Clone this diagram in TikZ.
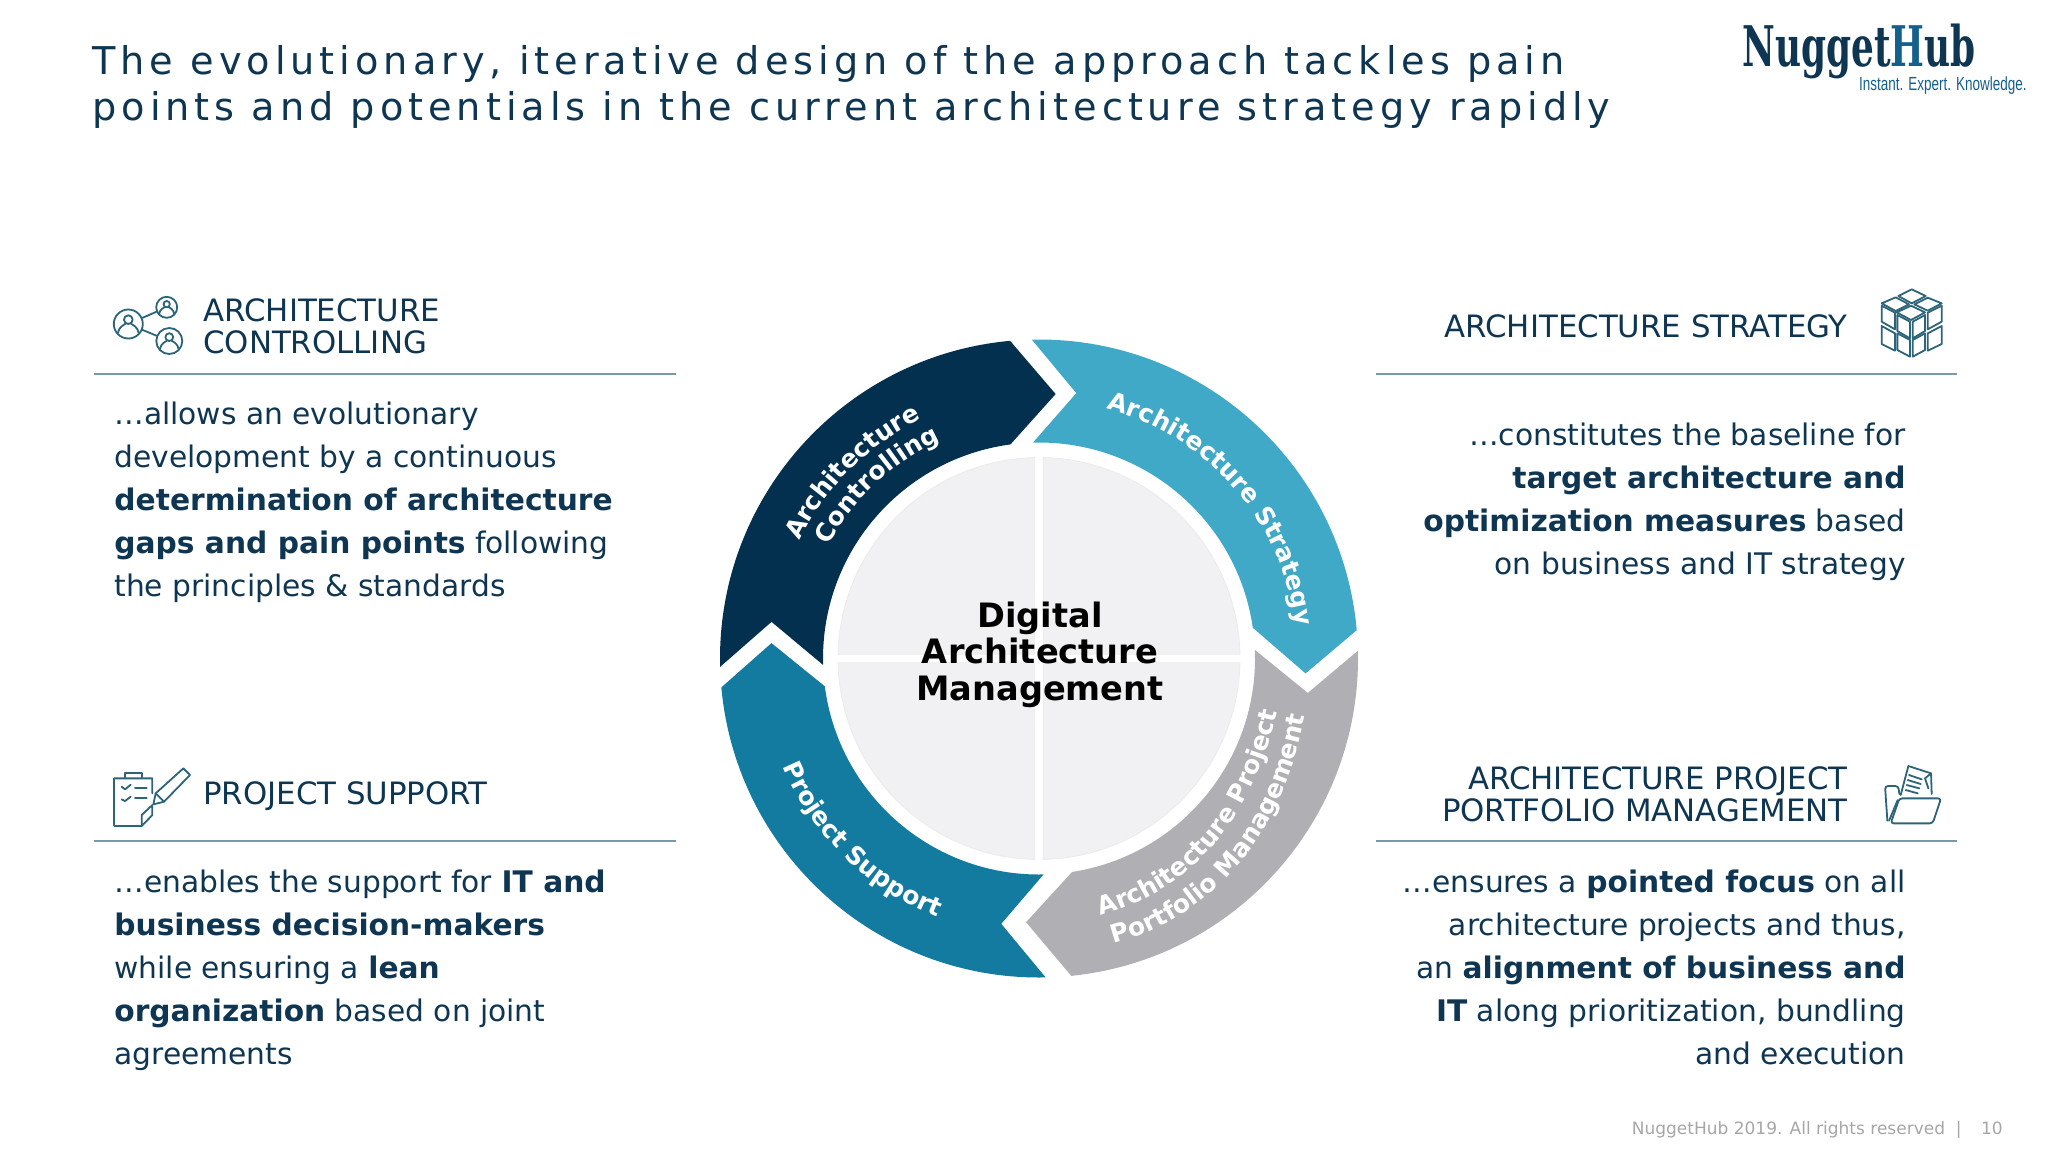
\documentclass[tikz,border=0pt]{standalone}
\usepackage{fontspec}
\setmainfont{DejaVu Sans}
\newfontfamily\titlefont[LetterSpace=13]{DejaVu Sans}
\newfontfamily\logofont[FakeStretch=0.64]{DejaVu Serif}
\newfontfamily\tagfont[FakeStretch=0.71]{Liberation Sans}
\usetikzlibrary{decorations.text}
\definecolor{navy}{HTML}{04304F}
\definecolor{skyblue}{HTML}{41A9C8}
\definecolor{petrol}{HTML}{147BA0}
\definecolor{ashgray}{HTML}{B0AFB3}
\definecolor{inktext}{HTML}{0E3552}
\definecolor{iconline}{HTML}{2C6479}
\definecolor{rulegray}{HTML}{7A98A5}
\definecolor{diskfill}{HTML}{F1F1F3}
\definecolor{hubblue}{HTML}{14608C}
\newcommand{\ringtext}{\fontsize{12.5}{14}\selectfont\bfseries\color{white}}
\tikzset{
  headleft/.style={anchor=west,align=left,text=inktext,inner sep=0pt,font=\fontsize{15.4}{16.2}\selectfont},
  headright/.style={anchor=east,align=right,text=inktext,inner sep=0pt,font=\fontsize{15.4}{16.2}\selectfont},
  bodyleft/.style={anchor=west,align=left,text=inktext,inner sep=0pt,font=\fontsize{14.85}{21.5}\selectfont},
  bodyright/.style={anchor=east,align=right,text=inktext,inner sep=0pt,font=\fontsize{14.85}{21.5}\selectfont},
  rulemark/.style={draw=rulegray,line width=.7pt},
  iconmark/.style={draw=iconline,line width=.9pt,line join=round,line cap=round},
  usercirc/.style={circle,iconmark,inner sep=0pt},
  quadrant/.style={fill=diskfill,draw=black!8,line width=.4pt},
  personmark/.pic={
    \draw[iconmark] (0,.3) circle [radius=.3];
    \draw[iconmark] (-.72,-.62) .. controls (-.65,-.2) and (-.3,-.05) .. (-.18,.02);
    \draw[iconmark] (.72,-.62) .. controls (.65,-.2) and (.3,-.05) .. (.18,.02);
  }
}
\begin{document}
\begin{tikzpicture}[x=50pt,y=50pt]
\useasboundingbox (0,0) rectangle (20.48,-11.52);

% title
\node[anchor=west,align=left,text=inktext,inner sep=0pt,font=\titlefont\fontsize{19.12}{23}\selectfont] (title) at (.92,-.866)
  {The evolutionary, iterative design of the approach tackles pain\\points and potentials in the current architecture strategy rapidly};

% logo
\node[anchor=base west,inner sep=0pt,text=inktext,font=\logofont\bfseries\fontsize{28}{30}\selectfont] (logo) at (17.42,-.66)
  {Nugget\textcolor{hubblue}{H}ub};
\node[anchor=base east,inner sep=0pt,text=hubblue,font=\tagfont\fontsize{9.5}{11}\selectfont] (tagline) at (20.27,-.905)
  {Instant. Expert. Knowledge.};

% ring
\begin{scope}[shift={(10.39,-6.585)}]
\fill[navy] (181.5:3.19) arc [start angle=181.5,end angle=95.2,radius=3.19] -- (86.4:2.65) -- (97.6:2.16)
  arc [start angle=97.6,end angle=181.7,radius=2.16] -- (172.2:2.70) -- cycle;
\fill[skyblue] (91.3:3.19) arc [start angle=91.3,end angle=5.1,radius=3.19] -- (-3.2:2.67) -- (8.2:2.16)
  arc [start angle=8.2,end angle=91.6,radius=2.16] -- (82:2.68) -- cycle;
\fill[ashgray] (1.4:3.19) arc [start angle=1.4,end angle=-84.2,radius=3.19] -- (-92.8:2.64) -- (-81.2:2.16)
  arc [start angle=-81.2,end angle=2.3,radius=2.16] -- (-7.3:2.71) -- cycle;
\fill[petrol] (-88.8:3.19) arc [start angle=-88.8,end angle=-174.8,radius=3.19] -- (176.7:2.68) -- (187.4:2.16)
  arc [start angle=187.4,end angle=271.2,radius=2.16] -- (-98.1:2.68) -- cycle;

% disk
\foreach \a in {0,90,180,270}
  \draw[quadrant,rotate=\a] (.043,.043) -- (1.2:2.01) arc [start angle=1.2,end angle=88.8,radius=2.01] -- cycle;

% ring labels
\path[decorate,decoration={text along path,text align=center,text={|\ringtext|Architecture Strategy}}]
  (88:2.59) arc [start angle=88,end angle=-6,radius=2.59];
\path[decorate,decoration={text along path,text align=center,text={|\ringtext|Architecture}}]
  (175:2.67) arc [start angle=175,end angle=95,radius=2.67];
\path[decorate,decoration={text along path,text align=center,text={|\ringtext|Controlling}}]
  (173:2.39) arc [start angle=173,end angle=93,radius=2.39];
\path[decorate,decoration={text along path,text align=center,text={|\ringtext|Project Support}}]
  (190.7:2.78) arc [start angle=190.7,end angle=260.7,radius=2.78];
\end{scope}

\path[decorate,decoration={text along path,text align=center,text={|\ringtext|Architecture Project}}]
  (10.88,-9.19) .. controls (11.93,-8.94) and (12.55,-8.19) .. (12.80,-6.99);
\path[decorate,decoration={text along path,text align=center,text={|\ringtext|Portfolio Management}}]
  (11.00,-9.47) .. controls (12.20,-9.22) and (12.90,-8.22) .. (13.07,-7.02);

\node[align=center,inner sep=0pt,font=\bfseries\fontsize{16.8}{18.3}\selectfont] (center) at (10.40,-6.546)
  {Digital\\Architecture\\Management};

% headers
\node[headleft] (headctrl) at (2.03,-3.26) {ARCHITECTURE\\CONTROLLING};
\node[headleft] (headsupp) at (2.03,-7.966) {PROJECT SUPPORT};
\node[headright] (headstrat) at (18.48,-3.26) {ARCHITECTURE STRATEGY};
\node[headright] (headport) at (18.48,-7.94) {ARCHITECTURE PROJECT\\PORTFOLIO MANAGEMENT};

% rules
\coordinate (ruleA) at (.94,-3.74);
\coordinate (ruleB) at (6.76,-3.74);
\coordinate (ruleC) at (13.76,-3.74);
\coordinate (ruleD) at (19.57,-3.74);
\coordinate (ruleE) at (.94,-8.41);
\coordinate (ruleF) at (6.76,-8.41);
\coordinate (ruleG) at (13.76,-8.41);
\coordinate (ruleH) at (19.57,-8.41);
\draw[rulemark] (ruleA) -- (ruleB);
\draw[rulemark] (ruleC) -- (ruleD);
\draw[rulemark] (ruleE) -- (ruleF);
\draw[rulemark] (ruleG) -- (ruleH);

% body texts
\node[bodyleft] (textctrl) at (1.14,-5.026)
  {…allows an evolutionary\\development by a continuous\\\textbf{determination of architecture}\\\textbf{gaps and pain points} following\\the principles \& standards};
\node[bodyright] (textstrat) at (19.06,-5.016)
  {…constitutes the baseline for\\\textbf{target architecture and}\\\textbf{optimization measures} based\\on business and IT strategy};
\node[bodyleft] (textsupp) at (1.14,-9.706)
  {…enables the support for \textbf{IT and}\\\textbf{business decision-makers}\\while ensuring a \textbf{lean}\\\textbf{organization} based on joint\\agreements};
\node[bodyright] (textport) at (19.06,-9.67)
  {…ensures a \textbf{pointed focus} on all\\architecture projects and thus,\\an \textbf{alignment of business and}\\\textbf{IT} along prioritization, bundling\\and execution};

% footer
\node[anchor=base east,inner sep=0pt,text=black!35,font=\fontsize{8.5}{11}\selectfont] (footer) at (19.62,-11.34) {NuggetHub 2019. All rights reserved~~|};
\node[anchor=base east,inner sep=0pt,text=black!35,font=\fontsize{8.5}{11}\selectfont] (pageno) at (20.03,-11.34) {10};

% people icon
\node[usercirc,minimum size=14.5pt] (userA) at (1.283,-3.24) {};
\node[usercirc,minimum size=10.5pt] (userB) at (1.667,-3.073) {};
\node[usercirc,minimum size=13pt] (userC) at (1.693,-3.41) {};
\draw[iconmark] (userA) -- (userB);
\draw[iconmark] (userA) -- (userC);
\pic[scale=.145] at (1.283,-3.24) {personmark};
\pic[scale=.105] at (1.667,-3.073) {personmark};
\pic[scale=.13] at (1.693,-3.41) {personmark};

% clipboard icon
\begin{scope}[shift={(.90,-7.50)},x=.1667pt,y=-.1667pt]
\draw[iconmark] (155,228) -- (75,228) -- (72,225) -- (72,85) -- (187,85) -- (187,130);
\draw[iconmark] (105,82) -- (105,70) -- (157,70) -- (157,82);
\draw[iconmark] (187,165) -- (187,195) -- (155,228) -- (155,195) -- cycle;
\draw[iconmark] (95,110) -- (105,118) -- (122,104);
\draw[iconmark] (95,148) -- (105,153) -- (122,140);
\draw[iconmark] (135,115) -- (170,115);
\draw[iconmark] (135,143) -- (170,143);
\draw[iconmark] (190,163) -- (197,130) -- (280,55) -- (300,75) -- (222,155) -- cycle;
\draw[iconmark] (197,130) -- (222,155);
\end{scope}

% cube icon
\begin{scope}[shift={(18.40,-2.70)},x=.1667pt,y=-.1667pt]
\foreach \xa/\ya/\xb/\yb/\xc/\yc/\xd/\yd in {215/58/257/78/215/100/175/78,125/100/167/82/207/103/167/123,
  223/103/263/83/305/100/263/122,170/127/213/107/255/127/213/150,
  125/107/165/128/165/178/125/155,125/168/165/190/165/242/125/222,
  172/135/210/155/210/205/172/183,172/190/210/210/210/260/172/240,
  218/155/255/135/255/183/218/205,218/210/255/190/255/240/218/260,
  263/128/305/107/305/155/263/178,263/190/305/168/305/222/263/242}
  \draw[iconmark] (\xa,\ya) -- (\xb,\yb) -- (\xc,\yc) -- (\xd,\yd) -- cycle;
\end{scope}

% folder icon
\begin{scope}[shift={(18.60,-7.50)},x=.1667pt,y=-.1667pt]
\draw[iconmark,rounded corners=1.5pt] (92,220) -- (118,145) -- (243,145) -- (218,220) -- cycle;
\draw[iconmark,rounded corners=1.5pt] (82,212) -- (75,108) -- (115,108) -- (118,132);
\draw[iconmark] (113,150) -- (87,212);
\draw[iconmark] (122,135) -- (145,48) -- (213,70) -- (215,132);
\draw[iconmark] (195,85) -- (213,70);
\draw[iconmark] (195,85) -- (205,115);
\draw[iconmark] (147,75) -- (185,88);
\draw[iconmark] (143,90) -- (182,102);
\draw[iconmark] (140,105) -- (178,115);
\draw[iconmark] (137,120) -- (173,130);
\end{scope}

\end{tikzpicture}
\end{document}
